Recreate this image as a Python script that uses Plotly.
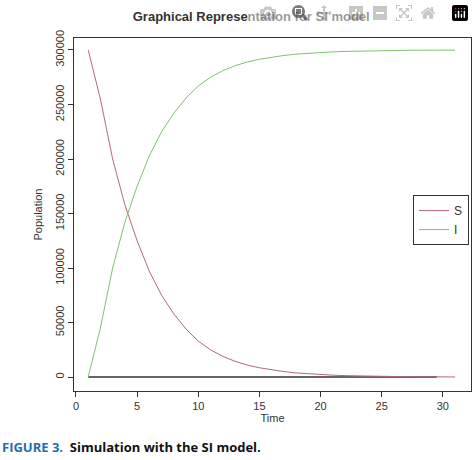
import plotly.graph_objects as go

time = list(range(1, 32))
S = [300000, 255000, 200000, 158000, 125000, 97000, 75000, 58000, 44000, 33000,
     25000, 19000, 14500, 11000, 8500, 6500, 5000, 3800, 2900, 2200,
     1700, 1300, 1000, 750, 550, 400, 300, 230, 170, 130, 100]
I = [0, 45000, 100000, 142000, 175000, 203000, 225000, 242000, 256000, 267000,
     275000, 281000, 285500, 289000, 291500, 293500, 295000, 296200, 297100, 297800,
     298300, 298700, 299000, 299250, 299450, 299600, 299700, 299770, 299830, 299870, 299900]
base_t = [1, 29.5]
base_v = [0, 0]
y_ticks = [0, 50000, 100000, 150000, 200000, 250000, 300000]

fig = go.Figure()
fig.add_trace(go.Scatter(x=base_t, y=base_v, mode="lines", line=dict(color="#333333", width=1.5), showlegend=False))
fig.add_trace(go.Scatter(x=time, y=S, mode="lines", name="S", line=dict(color="#b06a78", width=1)))
fig.add_trace(go.Scatter(x=time, y=I, mode="lines", name="I", line=dict(color="#7cc46e", width=1)))

ax = dict(showline=True, linecolor="#333", mirror=True, ticks="outside", ticklen=5,
          tickcolor="#333", showgrid=False, zeroline=False,
          tickfont=dict(family="Liberation Sans, Arial", size=11, color="#333"))
fig.update_layout(
    width=474, height=460, plot_bgcolor="white", paper_bgcolor="white",
    margin=dict(l=74, r=3, t=38, b=69),
    title=dict(text="<b>Graphical Representation for SI model</b>", x=0.53, y=0.975,
               font=dict(family="Liberation Sans, Arial", size=13, color="#333")),
    xaxis=dict(range=[-0.16, 32.3], tickvals=[0, 5, 10, 15, 20, 25, 30],
               title=dict(text="Time", standoff=0, font=dict(size=11, color="#333", family="Liberation Sans, Arial")), **ax),
    yaxis=dict(range=[-12800, 311000], tickvals=y_ticks, ticktext=[str(v) for v in y_ticks],
               tickangle=-90, title=dict(text="Population", standoff=8, font=dict(size=11, color="#333", family="Liberation Sans, Arial")), **ax),
    legend=dict(x=0.995, xanchor="right", y=0.555, yanchor="top", bordercolor="#333", borderwidth=1,
                bgcolor="white", font=dict(family="Liberation Sans, Arial", size=12, color="#333")),
    annotations=[dict(text="<b><span style='color:#1a6eb5'>FIGURE 3.</span>  Simulation with the SI model.</b>",
                      xref="paper", yref="paper", x=-0.186, xanchor="left", y=-0.159, yanchor="middle",
                      showarrow=False, font=dict(family="Open Sans, Noto Sans", size=13, color="#111"))]
)
fig.write_html("out.html", post_script="document.body.style.margin='0';document.body.style.overflow='hidden';")
